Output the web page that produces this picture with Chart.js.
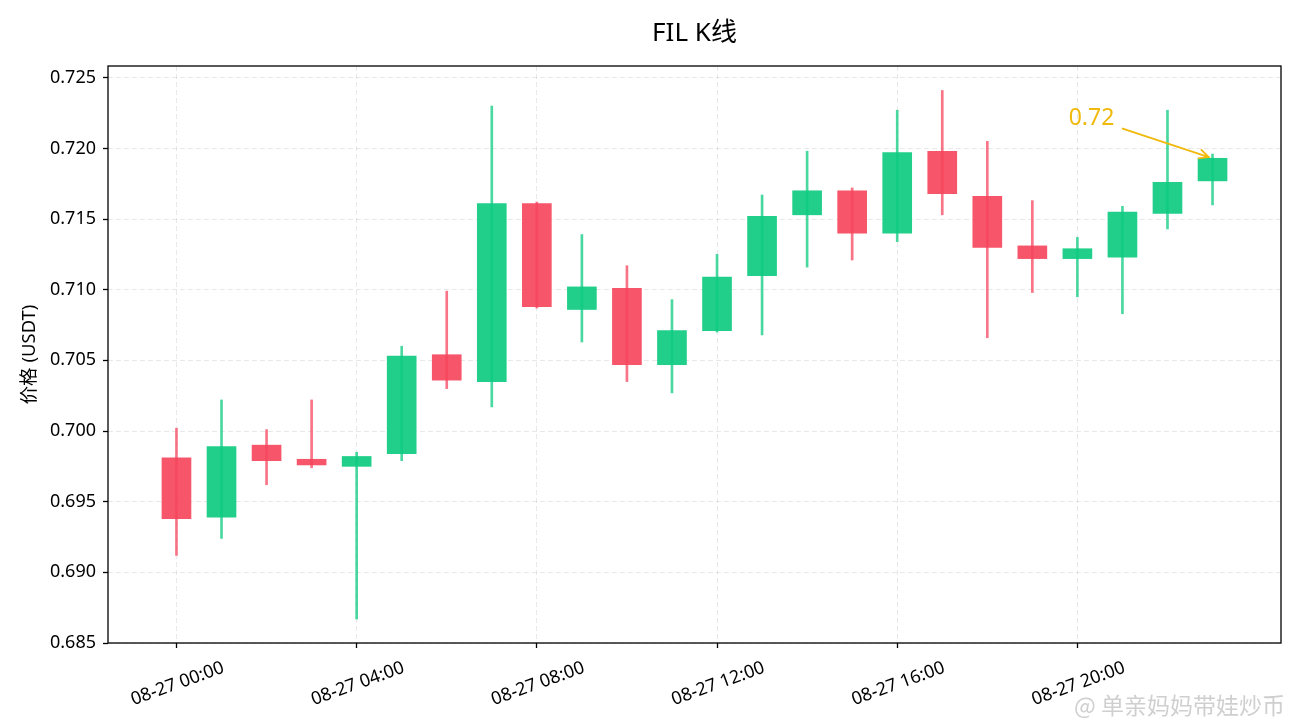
<!DOCTYPE html>
<html>
<head>
<meta charset="utf-8">
<script src="https://cdn.jsdelivr.net/npm/chart.js@4.4.0/dist/chart.umd.min.js"></script>
<style>
  html, body { margin: 0; padding: 0; background: #ffffff; }
  #wrap { position: relative; width: 1300px; height: 728px; }
  canvas { display: block; }
  #wm { position: absolute; left: 1074px; top: 687px; font: 23px "Noto Sans CJK SC", sans-serif;
        color: rgba(175,175,175,0.6); white-space: nowrap; }
</style>
</head>
<body>
<div id="wrap">
  <canvas id="c" width="1300" height="728" style="width:1300px;height:728px;"></canvas>
  <div id="wm">@ 单亲妈妈带娃炒币</div>
</div>
<script>
// ---- data ----
const categories = [
  '08-27 00:00','08-27 01:00','08-27 02:00','08-27 03:00','08-27 04:00','08-27 05:00',
  '08-27 06:00','08-27 07:00','08-27 08:00','08-27 09:00','08-27 10:00','08-27 11:00',
  '08-27 12:00','08-27 13:00','08-27 14:00','08-27 15:00','08-27 16:00','08-27 17:00',
  '08-27 18:00','08-27 19:00','08-27 20:00','08-27 21:00','08-27 22:00','08-27 23:00'
];
const openValues  = [0.6981,0.6939,0.6990,0.6980,0.6975,0.6984,0.7054,0.7035,0.7161,0.7086,0.7101,0.7047,
                     0.7071,0.7110,0.7153,0.7170,0.7140,0.7198,0.7166,0.7131,0.7122,0.7123,0.7154,0.7177];
const highValues  = [0.7002,0.7022,0.7001,0.7022,0.6985,0.7060,0.7099,0.7230,0.7162,0.7139,0.7117,0.7093,
                     0.7125,0.7167,0.7198,0.7172,0.7227,0.7241,0.7205,0.7163,0.7137,0.7159,0.7227,0.7196];
const lowValues   = [0.6912,0.6924,0.6962,0.6974,0.6867,0.6979,0.7030,0.7017,0.7087,0.7063,0.7035,0.7027,
                     0.7070,0.7068,0.7116,0.7121,0.7134,0.7153,0.7066,0.7098,0.7095,0.7083,0.7143,0.7160];
const closeValues = [0.6938,0.6989,0.6979,0.6976,0.6982,0.7053,0.7036,0.7161,0.7088,0.7102,0.7047,0.7071,
                     0.7109,0.7152,0.7170,0.7140,0.7197,0.7168,0.7130,0.7122,0.7129,0.7155,0.7176,0.7193];
const xTickHours  = [0, 4, 8, 12, 16, 20];
const xTickLabels = ['08-27 00:00','08-27 04:00','08-27 08:00','08-27 12:00','08-27 16:00','08-27 20:00'];
const yTickValues = [0.685,0.690,0.695,0.700,0.705,0.710,0.715,0.720,0.725];

// ---- styles ----
const UP = 'rgba(14,203,129,0.92)', DOWN = 'rgba(246,70,93,0.92)';
const UP_W = 'rgba(14,203,129,0.75)', DOWN_W = 'rgba(246,70,93,0.75)';
const FONT = "'Noto Sans', 'Noto Sans CJK SC', sans-serif";
const isUp = categories.map((_, i) => closeValues[i] >= openValues[i]);

const bodyData = categories.map((_, i) => ({ x: i, y: [openValues[i], closeValues[i]] }));
const wickData = categories.map((_, i) => ({ x: i, y: [lowValues[i], highValues[i]] }));

const framePlugin = {
  id: 'frame',
  afterDraw(chart) {
    const { ctx, chartArea: a } = chart;
    ctx.save();
    ctx.strokeStyle = '#000';
    ctx.lineWidth = 1.3;
    ctx.strokeRect(a.left, a.top, a.right - a.left, a.bottom - a.top);
    ctx.restore();
  }
};

const lastPricePlugin = {
  id: 'lastPrice',
  afterDatasetsDraw(chart) {
    const { ctx, scales: { x, y } } = chart;
    const i = closeValues.length - 1;
    const px = x.getPixelForValue(i), py = y.getPixelForValue(closeValues[i]);
    const tx = px - 121, ty = py - 40;
    const dx = px - tx, dy = py - ty, len = Math.hypot(dx, dy);
    const ux = dx / len, uy = dy / len;
    const sx = tx + ux * 32, sy = ty + uy * 32;
    const ex = px - ux * 4, ey = py - uy * 4;
    ctx.save();
    ctx.fillStyle = '#F0B90B';
    ctx.font = '23px ' + FONT;
    ctx.textAlign = 'center';
    ctx.textBaseline = 'middle';
    ctx.fillText(closeValues[i].toFixed(2), tx, ty);
    ctx.strokeStyle = '#F0B90B';
    ctx.lineWidth = 1.8;
    ctx.beginPath();
    ctx.moveTo(sx, sy);
    ctx.lineTo(ex, ey);
    const ang = Math.atan2(uy, ux), h = 11, spread = 0.45;
    ctx.moveTo(ex - h * Math.cos(ang - spread), ey - h * Math.sin(ang - spread));
    ctx.lineTo(ex, ey);
    ctx.lineTo(ex - h * Math.cos(ang + spread), ey - h * Math.sin(ang + spread));
    ctx.stroke();
    ctx.restore();
  }
};

new Chart(document.getElementById('c'), {
  type: 'bar',
  data: {
    datasets: [
      {
        label: 'wick',
        data: wickData,
        backgroundColor: isUp.map(u => u ? UP_W : DOWN_W),
        barThickness: 2,
        grouped: false,
        order: 0,
        borderWidth: 0
      },
      {
        label: 'body',
        data: bodyData,
        backgroundColor: isUp.map(u => u ? UP : DOWN),
        barThickness: 29,
        grouped: false,
        order: 1,
        borderWidth: 0
      }
    ]
  },
  options: {
    responsive: false,
    animation: false,
    devicePixelRatio: 1,
    layout: { padding: { left: 0, right: 19, top: 0, bottom: 0 } },
    plugins: {
      legend: { display: false },
      tooltip: { enabled: false },
      title: {
        display: true,
        fullSize: false,
        text: 'FIL K线',
        color: '#000',
        font: { family: FONT, size: 26, weight: 'normal' },
        padding: { top: 18.4, bottom: 16.4 }
      }
    },
    scales: {
      x: {
        type: 'linear',
        offset: false,
        min: -1.52,
        max: 24.52,
        afterBuildTicks: (axis) => { axis.ticks = xTickHours.map(v => ({ value: v })); },
        afterFit: (axis) => { axis.height = 85; },
        ticks: {
          autoSkip: false,
          minRotation: 20,
          maxRotation: 20,
          labelOffset: 47,
          padding: 9,
          color: '#000',
          font: { family: FONT, size: 18 },
          callback: (v) => { const k = xTickHours.indexOf(v); return k >= 0 ? xTickLabels[k] : ''; }
        },
        grid: {
          offset: false,
          color: 'rgba(0,0,0,0.09)',
          lineWidth: 1,
          drawTicks: true,
          tickLength: 5,
          tickColor: '#000',
          tickWidth: 1.3,
          tickBorderDash: []
        },
        border: { display: false, dash: [5, 3] }
      },
      y: {
        type: 'linear',
        min: 0.685,
        max: 0.72583,
        afterBuildTicks: (axis) => { axis.ticks = yTickValues.map(v => ({ value: v })); },
        afterFit: (axis) => { axis.width = 108; },
        ticks: {
          padding: 7,
          color: '#000',
          font: { family: FONT, size: 18 },
          callback: (v) => Number(v).toFixed(3)
        },
        title: {
          display: true,
          text: '价格 (USDT)',
          color: '#000',
          font: { family: FONT, size: 18.5 },
          padding: { top: 19, bottom: 0 }
        },
        grid: {
          color: 'rgba(0,0,0,0.09)',
          lineWidth: 1,
          drawTicks: true,
          tickLength: 5,
          tickColor: '#000',
          tickWidth: 1.3,
          tickBorderDash: []
        },
        border: { display: false, dash: [5, 3] }
      }
    }
  },
  plugins: [framePlugin, lastPricePlugin]
});
</script>
</body>
</html>
